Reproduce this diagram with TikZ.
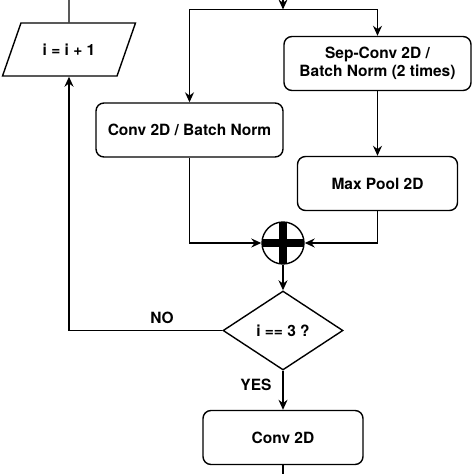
\documentclass[tikz,border=0pt]{standalone}
\usepackage{fontspec}
\setmainfont{TeX Gyre Heros}
\usetikzlibrary{shapes.geometric,arrows.meta}
\begin{document}
\begin{tikzpicture}[x=1pt,y=-1pt,line width=1.4pt,>={Stealth[length=10pt,width=9pt]},
    txt/.style={font=\fontsize{15.5}{18}\selectfont\bfseries,align=center},
    box/.style={txt,draw,rounded corners=8pt,minimum height=54pt}]
\useasboundingbox (0,0) rectangle (474,474);
%blocks
\node[txt,draw,trapezium,trapezium left angle=58,trapezium right angle=122,trapezium stretches=true,minimum width=134pt,minimum height=53pt] (inc) at (69,49.5) {i = i + 1};
\node[box,minimum width=187pt] (convbn) at (189.5,130) {Conv 2D / Batch Norm};
\node[box,minimum width=187pt] (sep) at (377.5,63.5) {Sep-Conv 2D /\\Batch Norm (2 times)};
\node[box,minimum width=160pt] (pool) at (377.5,183.5) {Max Pool 2D};
\node[draw,circle,minimum size=42pt,inner sep=0pt,path picture={
    \fill ([xshift=-4pt]path picture bounding box.north) rectangle ([xshift=4pt]path picture bounding box.south);
    \fill ([yshift=-4pt]path picture bounding box.west) rectangle ([yshift=4pt]path picture bounding box.east);
    }] (sum) at (283,243) {};
\node[txt,draw,diamond,shape aspect=1.5,inner sep=3pt,minimum width=120pt,minimum height=79pt] (cond) at (283,330.5) {i == 3 ?};
\node[box,minimum width=160pt] (conv) at (283,437.5) {Conv 2D};
%ends
\coordinate (top) at (69,0);
\coordinate (in) at (283,0);
\coordinate (split) at (283,9.5);
\coordinate (out) at (283,474);
%edges
\draw (top) -- (inc);
\draw[->] (in) -- (split);
\draw[->] (split) -| (convbn);
\draw[->] (split) -| (sep);
\draw[->] (sep) -- (pool);
\draw[->] (convbn) |- (sum);
\draw[->] (pool) |- (sum);
\draw[->] (sum) -- (cond);
\draw[->] (cond) -| (inc);
\draw[->] (cond) -- (conv);
\draw (conv) -- (out);
%labels
\node[txt] (no) at (162,318) {NO};
\node[txt] (yes) at (256,385) {YES};
\end{tikzpicture}
\end{document}
